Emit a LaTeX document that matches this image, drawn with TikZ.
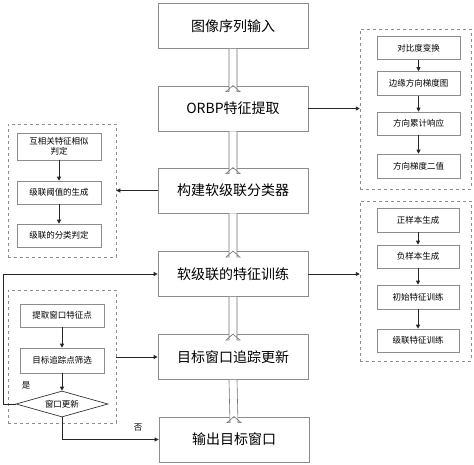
\documentclass[tikz,border=0pt]{standalone}
\usepackage{fontspec}
\setmainfont{Noto Sans CJK SC}
\usetikzlibrary{shapes.geometric,arrows.meta}
\begin{document}
\begin{tikzpicture}[x=1pt,y=-1pt,
  mainbox/.style={draw=black!45,line width=0.8pt,minimum width=150pt,minimum height=45pt,inner sep=0pt,font=\fontsize{14}{16}\selectfont},
  subbox/.style={draw=black!45,line width=0.6pt,minimum width=83pt,minimum height=23pt,inner sep=1pt,align=center,font=\fontsize{8.5}{10}\selectfont},
  group/.style={draw=black!45,dashed,line width=0.5pt},
  arr/.style={-{Triangle[length=4pt,width=4pt]},line width=1pt,black!85},
  hollow/.style={draw=black!55,fill=white,line width=0.6pt},
  lbl/.style={font=\fontsize{8.5}{10}\selectfont,inner sep=0pt}
]
\useasboundingbox (0,0) rectangle (474,465);
% main boxes
\node[mainbox] (m1) at (233,26) {图像序列输入};
\node[mainbox] (m2) at (233,108.5) {ORBP特征提取};
\node[mainbox] (m3) at (233,190.5) {构建软级联分类器};
\node[mainbox] (m4) at (233,274) {软级联的特征训练};
\node[mainbox] (m5) at (233,357) {目标窗口追踪更新};
\node[mainbox] (m6) at (234,439.5) {输出目标窗口};
% hollow arrows
\foreach \a/\b in {m1/m2,m2/m3,m3/m4,m4/m5,m5/m6}{
  \path (\a.south) coordinate (s) (\b.north) coordinate (e);
  \draw[hollow] ([xshift=-4pt]s) -- ([xshift=-4pt,yshift=-6pt]e) -- ([xshift=-7pt,yshift=-6pt]e) -- (e)
     -- ([xshift=7pt,yshift=-6pt]e) -- ([xshift=4pt,yshift=-6pt]e) -- ([xshift=4pt]s);
}
% right group 1
\node[group,minimum width=111pt,minimum height=160pt,inner sep=0pt] (g1) at (415.5,109) {};
\node[subbox] (a1) at (418.5,48) {对比度变换};
\node[subbox,minimum height=24pt] (a2) at (418.5,83.5) {边缘方向梯度图};
\node[subbox] (a3) at (418.5,123.5) {方向累计响应};
\node[subbox,minimum height=24pt] (a4) at (418.5,166) {方向梯度二值};
\draw[arr] (a1) -- (a2);
\draw[arr] (a2) -- (a3);
\draw[arr] (a3) -- (a4);
\draw[arr] (m2.east) -- (g1.west |- m2.east);
% left group 1
\node[group,minimum width=108pt,minimum height=133pt,inner sep=0pt] (g2) at (62,190.5) {};
\node[subbox,minimum width=84pt,minimum height=27pt] (b1) at (59,146.5) {互相关特征相似\\判定};
\node[subbox,minimum width=84pt] (b2) at (59,192.5) {级联阈值的生成};
\node[subbox,minimum width=84pt] (b3) at (59,235.5) {级联的分类判定};
\draw[arr] (b1) -- (b2);
\draw[arr] (b2) -- (b3);
\draw[arr] (m3.west) -- (g2.east |- m3.west);
% right group 2
\node[group,minimum width=111pt,minimum height=160pt,inner sep=0pt] (g3) at (415.5,281) {};
\node[subbox,minimum width=82pt,minimum height=24pt] (c1) at (418,220) {正样本生成};
\node[subbox,minimum width=82pt] (c2) at (418,256.5) {负样本生成};
\node[subbox,minimum width=82pt,minimum height=24pt] (c3) at (418,297) {初始特征训练};
\node[subbox,minimum width=82pt] (c4) at (418,340.5) {级联特征训练};
\draw[arr] (c1) -- (c2);
\draw[arr] (c2) -- (c3);
\draw[arr] (c3) -- (c4);
\draw[arr] (m4.east) -- (g3.west |- m4.east);
% left group 2
\node[group,minimum width=108pt,minimum height=133pt,inner sep=0pt] (g4) at (62,356.5) {};
\node[subbox,minimum width=84pt] (d1) at (62,315.5) {提取窗口特征点};
\node[subbox,minimum width=84pt,minimum height=25pt] (d2) at (62,360.5) {目标追踪点筛选};
\node[diamond,aspect=3.5,draw=black!80,line width=0.7pt,minimum width=92pt,minimum height=26pt,inner sep=0pt,font=\fontsize{8.5}{10}\selectfont] (d3) at (62,404) {窗口更新};
\draw[arr] (d1) -- (d2);
\draw[arr] (d2) -- (d3);
\draw[arr] (g4.east |- m5.west) -- (m5.west);
\coordinate (p1) at (3,404);
\coordinate (p2) at (3,274);
\draw[arr] (d3.west) -- (p1) -- (p2) -- (m4.west);
\coordinate (q1) at (62,439.5);
\draw[arr] (d3.south) -- (q1) -- (m6.west);
\node[lbl] (yes) at (26,385) {是};
\node[lbl] (no) at (138,428) {否};
\end{tikzpicture}
\end{document}
